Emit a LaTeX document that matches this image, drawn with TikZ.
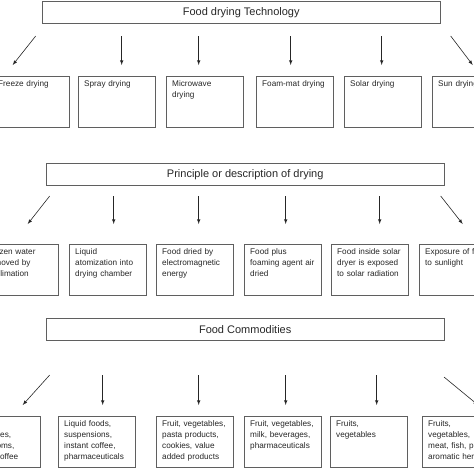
\documentclass[tikz,border=0pt]{standalone}
\usepackage{fontspec}
\setmainfont{Liberation Sans}
\definecolor{boxgray}{RGB}{95,95,95}
\tikzset{
  head/.style={draw=boxgray, anchor=north west, minimum width=398pt, minimum height=22pt,
    inner sep=0pt, text=black!85, font=\fontsize{11}{13}\selectfont},
  cell/.style={draw=boxgray, anchor=north west, align=left, text width=65pt,
    inner xsep=6pt, inner ysep=4pt, text height=6pt, text depth=37pt,
    text=black!85, font=\fontsize{8.2}{11}\selectfont},
  arr/.style={-latex, draw=black!85, line width=0.6pt},
}
\begin{document}
\begin{tikzpicture}[x=1pt, y=-1pt]
\useasboundingbox (0,0) rectangle (474,474);
\clip (0,0) rectangle (474,474);

% technologies
\node[head] (tech) at (42,1) {Food drying Technology};
\node[cell] (freeze) at (-8,76) {Freeze drying};
\node[cell] (spray) at (78,76) {Spray drying};
\node[cell] (micro) at (166,76) {Microwave\\drying};
\node[cell] (foam) at (256,76) {Foam-mat drying};
\node[cell] (solar) at (344,76) {Solar drying};
\node[cell] (sun) at (432,76) {Sun drying};
\foreach \n/\a/\b in {freeze/5/-18, spray/5/5, micro/-6/-6, foam/-4/-4, solar/-1/-1, sun/-20/2}
  \draw[arr] ([xshift=\a pt, yshift=40pt]\n.north) -- ([xshift=\b pt, yshift=11pt]\n.north);

% principles
\node[head] (princ) at (46,163) {Principle or description of drying};
\node[cell] (pfreeze) at (-19,244) {Frozen water\\removed by\\sublimation};
\node[cell] (pspray) at (69,244) {Liquid\\atomization into\\drying chamber};
\node[cell] (pmicro) at (156,244) {Food dried by\\electromagnetic\\energy};
\node[cell] (pfoam) at (244,244) {Food plus\\foaming agent air\\dried};
\node[cell] (psolar) at (331,244) {Food inside solar\\dryer is exposed\\to solar radiation};
\node[cell] (psun) at (419,244) {Exposure of food\\to sunlight};
\foreach \n/\a/\b in {pfreeze/30/8, pspray/6/6, pmicro/4/4, pfoam/3/3, psolar/10/10, psun/-17/5}
  \draw[arr] ([xshift=\a pt, yshift=48pt]\n.north) -- ([xshift=\b pt, yshift=20pt]\n.north);

% commodities
\node[head] (comm) at (46,318) {Food Commodities};
\node[cell] (cfreeze) at (-37,416) {Fruits,\\vegetables,\\mushrooms,\\instant coffee};
\node[cell] (cspray) at (58,416) {Liquid foods,\\suspensions,\\instant coffee,\\pharmaceuticals};
\node[cell] (cmicro) at (156,416) {Fruit, vegetables,\\pasta products,\\cookies, value\\added products};
\node[cell] (cfoam) at (244,416) {Fruit, vegetables,\\milk, beverages,\\pharmaceuticals};
\node[cell] (csolar) at (330,416) {Fruits,\\vegetables};
\node[cell, text width=80pt] (csun) at (422,416) {Fruits,\\vegetables,\\meat, fish, pulses,\\aromatic herbs};
\foreach \n/\a/\b in {cfreeze/48/21, cspray/6/6, cmicro/4/4, cfoam/3/3, csolar/8/8}
  \draw[arr] ([xshift=\a pt, yshift=41pt]\n.north) -- ([xshift=\b pt, yshift=11pt]\n.north);
\draw[arr] ([xshift=22pt, yshift=39pt]csun.north west) -- ([xshift=56pt, yshift=11pt]csun.north west);
\end{tikzpicture}
\end{document}
